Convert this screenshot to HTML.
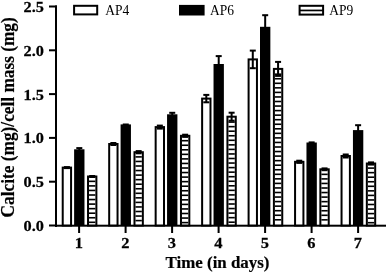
<!DOCTYPE html>
<html><head><meta charset="utf-8"><style>
html,body{margin:0;padding:0;background:#fff;}
body{width:389px;height:273px;overflow:hidden;}
svg{display:block;}
text{font-family:"Liberation Serif","Times New Roman",serif;fill:#000;}
.lg{font-size:13.5px;}
.tk{font-size:15.5px;font-weight:bold;stroke:#000;stroke-width:0.25px;}
.ti{font-size:17.3px;font-weight:bold;stroke:#000;stroke-width:0.2px;}
.tx{font-size:16.9px;}
</style></head><body>
<svg width="389" height="273" viewBox="0 0 389 273">
<rect width="389" height="273" fill="#fff"/>
<rect x="55" y="5.5" width="2" height="221.5" fill="#000"/>
<rect x="55" y="224.7" width="331" height="2" fill="#000"/>
<rect x="49" y="224.5" width="8" height="2" fill="#000"/>
<rect x="49" y="180.7" width="8" height="2" fill="#000"/>
<rect x="49" y="136.9" width="8" height="2" fill="#000"/>
<rect x="49" y="93.1" width="8" height="2" fill="#000"/>
<rect x="49" y="49.3" width="8" height="2" fill="#000"/>
<rect x="49" y="5.5" width="8" height="2" fill="#000"/>
<rect x="78.1" y="225" width="2" height="8" fill="#000"/>
<rect x="124.6" y="225" width="2" height="8" fill="#000"/>
<rect x="171.1" y="225" width="2" height="8" fill="#000"/>
<rect x="217.6" y="225" width="2" height="8" fill="#000"/>
<rect x="264.1" y="225" width="2" height="8" fill="#000"/>
<rect x="310.6" y="225" width="2" height="8" fill="#000"/>
<rect x="357.1" y="225" width="2" height="8" fill="#000"/>
<rect x="62.72" y="167.6" width="8.35" height="57.9" fill="#fff" stroke="#000" stroke-width="2"/>
<rect x="65.9" y="167.1" width="2" height="1" fill="#000"/>
<rect x="63.9" y="166.1" width="6" height="2" fill="#000"/>
<rect x="63.9" y="167.1" width="6" height="2" fill="#000"/>
<rect x="74.12" y="149.3" width="10.35" height="76.2" fill="#000"/>
<rect x="78.3" y="148.1" width="2" height="4.4" fill="#000"/>
<rect x="76.3" y="147.1" width="6" height="2" fill="#000"/>
<rect x="76.3" y="151.5" width="6" height="2" fill="#000"/>
<rect x="88.03" y="176.5" width="8.35" height="49" fill="#fff" stroke="#000" stroke-width="2"/>
<rect x="89.03" y="221.5" width="6.35" height="1.6" fill="#000"/>
<rect x="89.03" y="216.95" width="6.35" height="1.6" fill="#000"/>
<rect x="89.03" y="212.4" width="6.35" height="1.6" fill="#000"/>
<rect x="89.03" y="207.85" width="6.35" height="1.6" fill="#000"/>
<rect x="89.03" y="203.3" width="6.35" height="1.6" fill="#000"/>
<rect x="89.03" y="198.75" width="6.35" height="1.6" fill="#000"/>
<rect x="89.03" y="194.2" width="6.35" height="1.6" fill="#000"/>
<rect x="89.03" y="189.65" width="6.35" height="1.6" fill="#000"/>
<rect x="89.03" y="185.1" width="6.35" height="1.6" fill="#000"/>
<rect x="89.03" y="180.55" width="6.35" height="1.6" fill="#000"/>
<rect x="91.2" y="176" width="2" height="1" fill="#000"/>
<rect x="89.2" y="175" width="6" height="2" fill="#000"/>
<rect x="89.2" y="176" width="6" height="2" fill="#000"/>
<rect x="109.19" y="144" width="8.35" height="81.5" fill="#fff" stroke="#000" stroke-width="2"/>
<rect x="112.37" y="143" width="2" height="2" fill="#000"/>
<rect x="110.37" y="142" width="6" height="2" fill="#000"/>
<rect x="110.37" y="144" width="6" height="2" fill="#000"/>
<rect x="120.59" y="124.4" width="10.35" height="101.1" fill="#000"/>
<rect x="124.77" y="124.5" width="2" height="1.8" fill="#000"/>
<rect x="122.77" y="123.5" width="6" height="2" fill="#000"/>
<rect x="122.77" y="125.3" width="6" height="2" fill="#000"/>
<rect x="134.49" y="152.2" width="8.35" height="73.3" fill="#fff" stroke="#000" stroke-width="2"/>
<rect x="135.49" y="219.8" width="6.35" height="1.6" fill="#000"/>
<rect x="135.49" y="215.25" width="6.35" height="1.6" fill="#000"/>
<rect x="135.49" y="210.7" width="6.35" height="1.6" fill="#000"/>
<rect x="135.49" y="206.15" width="6.35" height="1.6" fill="#000"/>
<rect x="135.49" y="201.6" width="6.35" height="1.6" fill="#000"/>
<rect x="135.49" y="197.05" width="6.35" height="1.6" fill="#000"/>
<rect x="135.49" y="192.5" width="6.35" height="1.6" fill="#000"/>
<rect x="135.49" y="187.95" width="6.35" height="1.6" fill="#000"/>
<rect x="135.49" y="183.4" width="6.35" height="1.6" fill="#000"/>
<rect x="135.49" y="178.85" width="6.35" height="1.6" fill="#000"/>
<rect x="135.49" y="174.3" width="6.35" height="1.6" fill="#000"/>
<rect x="135.49" y="169.75" width="6.35" height="1.6" fill="#000"/>
<rect x="135.49" y="165.2" width="6.35" height="1.6" fill="#000"/>
<rect x="135.49" y="160.65" width="6.35" height="1.6" fill="#000"/>
<rect x="135.49" y="156.1" width="6.35" height="1.6" fill="#000"/>
<rect x="137.67" y="151.1" width="2" height="2.2" fill="#000"/>
<rect x="135.67" y="150.1" width="6" height="2" fill="#000"/>
<rect x="135.67" y="152.3" width="6" height="2" fill="#000"/>
<rect x="155.66" y="127.1" width="8.35" height="98.4" fill="#fff" stroke="#000" stroke-width="2"/>
<rect x="158.84" y="125.6" width="2" height="3" fill="#000"/>
<rect x="156.84" y="124.6" width="6" height="2" fill="#000"/>
<rect x="156.84" y="127.6" width="6" height="2" fill="#000"/>
<rect x="167.06" y="114.3" width="10.35" height="111.2" fill="#000"/>
<rect x="171.24" y="112.8" width="2" height="5" fill="#000"/>
<rect x="169.24" y="111.8" width="6" height="2" fill="#000"/>
<rect x="169.24" y="116.8" width="6" height="2" fill="#000"/>
<rect x="180.97" y="135.8" width="8.35" height="89.7" fill="#fff" stroke="#000" stroke-width="2"/>
<rect x="181.97" y="221.8" width="6.35" height="1.6" fill="#000"/>
<rect x="181.97" y="217.25" width="6.35" height="1.6" fill="#000"/>
<rect x="181.97" y="212.7" width="6.35" height="1.6" fill="#000"/>
<rect x="181.97" y="208.15" width="6.35" height="1.6" fill="#000"/>
<rect x="181.97" y="203.6" width="6.35" height="1.6" fill="#000"/>
<rect x="181.97" y="199.05" width="6.35" height="1.6" fill="#000"/>
<rect x="181.97" y="194.5" width="6.35" height="1.6" fill="#000"/>
<rect x="181.97" y="189.95" width="6.35" height="1.6" fill="#000"/>
<rect x="181.97" y="185.4" width="6.35" height="1.6" fill="#000"/>
<rect x="181.97" y="180.85" width="6.35" height="1.6" fill="#000"/>
<rect x="181.97" y="176.3" width="6.35" height="1.6" fill="#000"/>
<rect x="181.97" y="171.75" width="6.35" height="1.6" fill="#000"/>
<rect x="181.97" y="167.2" width="6.35" height="1.6" fill="#000"/>
<rect x="181.97" y="162.65" width="6.35" height="1.6" fill="#000"/>
<rect x="181.97" y="158.1" width="6.35" height="1.6" fill="#000"/>
<rect x="181.97" y="153.55" width="6.35" height="1.6" fill="#000"/>
<rect x="181.97" y="149" width="6.35" height="1.6" fill="#000"/>
<rect x="181.97" y="144.45" width="6.35" height="1.6" fill="#000"/>
<rect x="181.97" y="139.9" width="6.35" height="1.6" fill="#000"/>
<rect x="184.14" y="134.7" width="2" height="2.2" fill="#000"/>
<rect x="182.14" y="133.7" width="6" height="2" fill="#000"/>
<rect x="182.14" y="135.9" width="6" height="2" fill="#000"/>
<rect x="202.13" y="98.6" width="8.35" height="126.9" fill="#fff" stroke="#000" stroke-width="2"/>
<rect x="205.31" y="94.9" width="2" height="7.4" fill="#000"/>
<rect x="203.31" y="93.9" width="6" height="2" fill="#000"/>
<rect x="203.31" y="101.3" width="6" height="2" fill="#000"/>
<rect x="213.53" y="64" width="10.35" height="161.5" fill="#000"/>
<rect x="217.71" y="56.1" width="2" height="17.8" fill="#000"/>
<rect x="215.71" y="55.1" width="6" height="2" fill="#000"/>
<rect x="215.71" y="72.9" width="6" height="2" fill="#000"/>
<rect x="227.43" y="116.7" width="8.35" height="108.8" fill="#fff" stroke="#000" stroke-width="2"/>
<rect x="228.43" y="221.4" width="6.35" height="1.6" fill="#000"/>
<rect x="228.43" y="216.85" width="6.35" height="1.6" fill="#000"/>
<rect x="228.43" y="212.3" width="6.35" height="1.6" fill="#000"/>
<rect x="228.43" y="207.75" width="6.35" height="1.6" fill="#000"/>
<rect x="228.43" y="203.2" width="6.35" height="1.6" fill="#000"/>
<rect x="228.43" y="198.65" width="6.35" height="1.6" fill="#000"/>
<rect x="228.43" y="194.1" width="6.35" height="1.6" fill="#000"/>
<rect x="228.43" y="189.55" width="6.35" height="1.6" fill="#000"/>
<rect x="228.43" y="185" width="6.35" height="1.6" fill="#000"/>
<rect x="228.43" y="180.45" width="6.35" height="1.6" fill="#000"/>
<rect x="228.43" y="175.9" width="6.35" height="1.6" fill="#000"/>
<rect x="228.43" y="171.35" width="6.35" height="1.6" fill="#000"/>
<rect x="228.43" y="166.8" width="6.35" height="1.6" fill="#000"/>
<rect x="228.43" y="162.25" width="6.35" height="1.6" fill="#000"/>
<rect x="228.43" y="157.7" width="6.35" height="1.6" fill="#000"/>
<rect x="228.43" y="153.15" width="6.35" height="1.6" fill="#000"/>
<rect x="228.43" y="148.6" width="6.35" height="1.6" fill="#000"/>
<rect x="228.43" y="144.05" width="6.35" height="1.6" fill="#000"/>
<rect x="228.43" y="139.5" width="6.35" height="1.6" fill="#000"/>
<rect x="228.43" y="134.95" width="6.35" height="1.6" fill="#000"/>
<rect x="228.43" y="130.4" width="6.35" height="1.6" fill="#000"/>
<rect x="228.43" y="125.85" width="6.35" height="1.6" fill="#000"/>
<rect x="228.43" y="121.3" width="6.35" height="1.6" fill="#000"/>
<rect x="230.61" y="112.7" width="2" height="8" fill="#000"/>
<rect x="228.61" y="111.7" width="6" height="2" fill="#000"/>
<rect x="228.61" y="119.7" width="6" height="2" fill="#000"/>
<rect x="248.6" y="59.4" width="8.35" height="166.1" fill="#fff" stroke="#000" stroke-width="2"/>
<rect x="251.78" y="50.6" width="2" height="17.6" fill="#000"/>
<rect x="249.78" y="49.6" width="6" height="2" fill="#000"/>
<rect x="249.78" y="67.2" width="6" height="2" fill="#000"/>
<rect x="260" y="26.8" width="10.35" height="198.7" fill="#000"/>
<rect x="264.18" y="15.2" width="2" height="25.2" fill="#000"/>
<rect x="262.18" y="14.2" width="6" height="2" fill="#000"/>
<rect x="262.18" y="39.4" width="6" height="2" fill="#000"/>
<rect x="273.9" y="68.9" width="8.35" height="156.6" fill="#fff" stroke="#000" stroke-width="2"/>
<rect x="274.9" y="219" width="6.35" height="1.6" fill="#000"/>
<rect x="274.9" y="214.45" width="6.35" height="1.6" fill="#000"/>
<rect x="274.9" y="209.9" width="6.35" height="1.6" fill="#000"/>
<rect x="274.9" y="205.35" width="6.35" height="1.6" fill="#000"/>
<rect x="274.9" y="200.8" width="6.35" height="1.6" fill="#000"/>
<rect x="274.9" y="196.25" width="6.35" height="1.6" fill="#000"/>
<rect x="274.9" y="191.7" width="6.35" height="1.6" fill="#000"/>
<rect x="274.9" y="187.15" width="6.35" height="1.6" fill="#000"/>
<rect x="274.9" y="182.6" width="6.35" height="1.6" fill="#000"/>
<rect x="274.9" y="178.05" width="6.35" height="1.6" fill="#000"/>
<rect x="274.9" y="173.5" width="6.35" height="1.6" fill="#000"/>
<rect x="274.9" y="168.95" width="6.35" height="1.6" fill="#000"/>
<rect x="274.9" y="164.4" width="6.35" height="1.6" fill="#000"/>
<rect x="274.9" y="159.85" width="6.35" height="1.6" fill="#000"/>
<rect x="274.9" y="155.3" width="6.35" height="1.6" fill="#000"/>
<rect x="274.9" y="150.75" width="6.35" height="1.6" fill="#000"/>
<rect x="274.9" y="146.2" width="6.35" height="1.6" fill="#000"/>
<rect x="274.9" y="141.65" width="6.35" height="1.6" fill="#000"/>
<rect x="274.9" y="137.1" width="6.35" height="1.6" fill="#000"/>
<rect x="274.9" y="132.55" width="6.35" height="1.6" fill="#000"/>
<rect x="274.9" y="128" width="6.35" height="1.6" fill="#000"/>
<rect x="274.9" y="123.45" width="6.35" height="1.6" fill="#000"/>
<rect x="274.9" y="118.9" width="6.35" height="1.6" fill="#000"/>
<rect x="274.9" y="114.35" width="6.35" height="1.6" fill="#000"/>
<rect x="274.9" y="109.8" width="6.35" height="1.6" fill="#000"/>
<rect x="274.9" y="105.25" width="6.35" height="1.6" fill="#000"/>
<rect x="274.9" y="100.7" width="6.35" height="1.6" fill="#000"/>
<rect x="274.9" y="96.15" width="6.35" height="1.6" fill="#000"/>
<rect x="274.9" y="91.6" width="6.35" height="1.6" fill="#000"/>
<rect x="274.9" y="87.05" width="6.35" height="1.6" fill="#000"/>
<rect x="274.9" y="82.5" width="6.35" height="1.6" fill="#000"/>
<rect x="274.9" y="77.95" width="6.35" height="1.6" fill="#000"/>
<rect x="274.9" y="73.4" width="6.35" height="1.6" fill="#000"/>
<rect x="277.08" y="61.9" width="2" height="14" fill="#000"/>
<rect x="275.08" y="60.9" width="6" height="2" fill="#000"/>
<rect x="275.08" y="74.9" width="6" height="2" fill="#000"/>
<rect x="295.07" y="161.8" width="8.35" height="63.7" fill="#fff" stroke="#000" stroke-width="2"/>
<rect x="298.25" y="160.7" width="2" height="2.2" fill="#000"/>
<rect x="296.25" y="159.7" width="6" height="2" fill="#000"/>
<rect x="296.25" y="161.9" width="6" height="2" fill="#000"/>
<rect x="306.47" y="142.5" width="10.35" height="83" fill="#000"/>
<rect x="310.65" y="142.4" width="2" height="2.2" fill="#000"/>
<rect x="308.65" y="141.4" width="6" height="2" fill="#000"/>
<rect x="308.65" y="143.6" width="6" height="2" fill="#000"/>
<rect x="320.37" y="169.3" width="8.35" height="56.2" fill="#fff" stroke="#000" stroke-width="2"/>
<rect x="321.37" y="219.05" width="6.35" height="1.6" fill="#000"/>
<rect x="321.37" y="214.5" width="6.35" height="1.6" fill="#000"/>
<rect x="321.37" y="209.95" width="6.35" height="1.6" fill="#000"/>
<rect x="321.37" y="205.4" width="6.35" height="1.6" fill="#000"/>
<rect x="321.37" y="200.85" width="6.35" height="1.6" fill="#000"/>
<rect x="321.37" y="196.3" width="6.35" height="1.6" fill="#000"/>
<rect x="321.37" y="191.75" width="6.35" height="1.6" fill="#000"/>
<rect x="321.37" y="187.2" width="6.35" height="1.6" fill="#000"/>
<rect x="321.37" y="182.65" width="6.35" height="1.6" fill="#000"/>
<rect x="321.37" y="178.1" width="6.35" height="1.6" fill="#000"/>
<rect x="321.37" y="173.55" width="6.35" height="1.6" fill="#000"/>
<rect x="323.55" y="168.4" width="2" height="1.8" fill="#000"/>
<rect x="321.55" y="167.4" width="6" height="2" fill="#000"/>
<rect x="321.55" y="169.2" width="6" height="2" fill="#000"/>
<rect x="341.55" y="156" width="8.35" height="69.5" fill="#fff" stroke="#000" stroke-width="2"/>
<rect x="344.72" y="154.5" width="2" height="3" fill="#000"/>
<rect x="342.72" y="153.5" width="6" height="2" fill="#000"/>
<rect x="342.72" y="156.5" width="6" height="2" fill="#000"/>
<rect x="352.94" y="130.1" width="10.35" height="95.4" fill="#000"/>
<rect x="357.12" y="125.2" width="2" height="11.8" fill="#000"/>
<rect x="355.12" y="124.2" width="6" height="2" fill="#000"/>
<rect x="355.12" y="136" width="6" height="2" fill="#000"/>
<rect x="366.84" y="163.5" width="8.35" height="62" fill="#fff" stroke="#000" stroke-width="2"/>
<rect x="367.84" y="221.9" width="6.35" height="1.6" fill="#000"/>
<rect x="367.84" y="217.35" width="6.35" height="1.6" fill="#000"/>
<rect x="367.84" y="212.8" width="6.35" height="1.6" fill="#000"/>
<rect x="367.84" y="208.25" width="6.35" height="1.6" fill="#000"/>
<rect x="367.84" y="203.7" width="6.35" height="1.6" fill="#000"/>
<rect x="367.84" y="199.15" width="6.35" height="1.6" fill="#000"/>
<rect x="367.84" y="194.6" width="6.35" height="1.6" fill="#000"/>
<rect x="367.84" y="190.05" width="6.35" height="1.6" fill="#000"/>
<rect x="367.84" y="185.5" width="6.35" height="1.6" fill="#000"/>
<rect x="367.84" y="180.95" width="6.35" height="1.6" fill="#000"/>
<rect x="367.84" y="176.4" width="6.35" height="1.6" fill="#000"/>
<rect x="367.84" y="171.85" width="6.35" height="1.6" fill="#000"/>
<rect x="367.84" y="167.3" width="6.35" height="1.6" fill="#000"/>
<rect x="370.02" y="162.4" width="2" height="2.2" fill="#000"/>
<rect x="368.02" y="161.4" width="6" height="2" fill="#000"/>
<rect x="368.02" y="163.6" width="6" height="2" fill="#000"/>
<rect x="74.1" y="5.8" width="23.1" height="8.6" fill="#fff" stroke="#000" stroke-width="2"/>
<text transform="translate(105.2,14.8) scale(1,1.12)" class="lg">AP4</text>
<rect x="179" y="4.9" width="25.6" height="10.6" fill="#000"/>
<text transform="translate(210,14.8) scale(1,1.12)" class="lg">AP6</text>
<rect x="299.6" y="5.8" width="23.5" height="8.8" fill="#fff" stroke="#000" stroke-width="2"/>
<rect x="300" y="9.6" width="23" height="1.7" fill="#000"/>
<text transform="translate(329.3,14.8) scale(1,1.12)" class="lg">AP9</text>
<text transform="translate(43.9,231) scale(1.05,1)" class="tk" text-anchor="end">0.0</text>
<text transform="translate(43.9,187.2) scale(1.05,1)" class="tk" text-anchor="end">0.5</text>
<text transform="translate(43.9,143.4) scale(1.05,1)" class="tk" text-anchor="end">1.0</text>
<text transform="translate(43.9,99.6) scale(1.05,1)" class="tk" text-anchor="end">1.5</text>
<text transform="translate(43.9,55.8) scale(1.05,1)" class="tk" text-anchor="end">2.0</text>
<text transform="translate(43.9,12) scale(1.05,1)" class="tk" text-anchor="end">2.5</text>
<text transform="translate(78.8,247.8) scale(1.06,1)" class="tk" text-anchor="middle">1</text>
<text transform="translate(125.3,247.8) scale(1.06,1)" class="tk" text-anchor="middle">2</text>
<text transform="translate(171.8,247.8) scale(1.06,1)" class="tk" text-anchor="middle">3</text>
<text transform="translate(218.3,247.8) scale(1.06,1)" class="tk" text-anchor="middle">4</text>
<text transform="translate(264.8,247.8) scale(1.06,1)" class="tk" text-anchor="middle">5</text>
<text transform="translate(311.3,247.8) scale(1.06,1)" class="tk" text-anchor="middle">6</text>
<text transform="translate(357.8,247.8) scale(1.06,1)" class="tk" text-anchor="middle">7</text>
<text transform="translate(217.5,267.9)" class="ti tx" text-anchor="middle">Time (in days)</text>
<text transform="translate(14.4,117.3) rotate(-90) scale(1,1.03)" class="ti yt" text-anchor="middle">Calcite (mg)/cell mass (mg)</text>
</svg>
</body></html>
